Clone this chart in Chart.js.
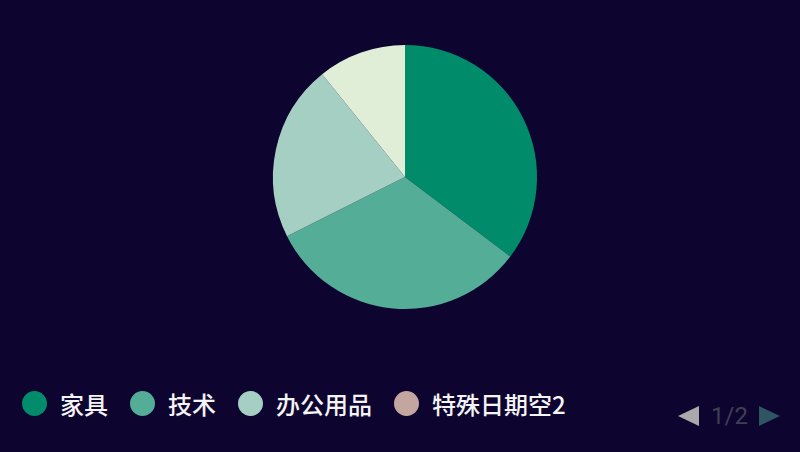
<!DOCTYPE html>
<html>
<head>
<meta charset="utf-8">
<script src="https://cdn.jsdelivr.net/npm/chart.js@4.4.0/dist/chart.umd.min.js"></script>
<style>
  html, body { margin: 0; padding: 0; background: #0e0430; }
  #wrap { position: relative; width: 800px; height: 452px; background: #0e0430; overflow: hidden; }
  #cbox { position: absolute; left: 0; top: 0; width: 800px; height: 354px; }
  #legend { position: absolute; left: 22px; top: 388px; height: 30px; display: flex; align-items: center;
            font-family: "Noto Sans CJK SC", "Noto Sans", sans-serif; font-size: 24px; font-weight: 500; color: #f4f4f4; white-space: nowrap; }
  .item { display: flex; align-items: center; margin-right: 22px; }
  .dot { width: 25px; height: 25px; border-radius: 50%; margin-right: 13px; flex: none; }
  #pager { position: absolute; left: 678px; top: 404px; height: 24px; display: flex; align-items: center;
           font-family: Roboto, "Noto Sans", sans-serif; font-size: 24px; color: #3c4052; }
  .tri-l { width: 0; height: 0; border-top: 10px solid transparent; border-bottom: 10px solid transparent; border-right: 21px solid #aaa; }
  .tri-r { width: 0; height: 0; border-top: 10px solid transparent; border-bottom: 10px solid transparent; border-left: 21px solid #2f5562; }
  #ptext { margin: 0 11px 0 12px; line-height: 24px; }
</style>
</head>
<body>
<div id="wrap">
  <div id="cbox"><canvas id="c"></canvas></div>
  <div id="legend"></div>
  <div id="pager"><div class="tri-l"></div><span id="ptext"></span><div class="tri-r"></div></div>
</div>
<script>
const categories = ["家具", "技术", "办公用品", "特殊日期空2", "其他"];
const values = [353, 323, 216, 0, 108];
const colors = ["#008c6a", "#54ad97", "#a6cfc3", "#c4a6a0", "#e0eed8"];
const legendPageSize = 4;
const legendPage = 1;
const legendPages = 2;

const chart = new Chart(document.getElementById('c'), {
  type: 'pie',
  data: {
    labels: categories,
    datasets: [{
      data: values,
      backgroundColor: colors,
      borderWidth: 0
    }]
  },
  options: {
    responsive: true,
    maintainAspectRatio: false,
    animation: false,
    layout: { padding: { top: 45, bottom: 45, left: 10, right: 0 } },
    plugins: {
      legend: { display: false },
      tooltip: { enabled: false }
    }
  }
});

// HTML legend built from the chart's labels (page 1 of 2)
const legendEl = document.getElementById('legend');
chart.data.labels.slice(0, legendPageSize).forEach((lab, i) => {
  const it = document.createElement('div');
  it.className = 'item';
  const d = document.createElement('span');
  d.className = 'dot';
  d.style.background = chart.data.datasets[0].backgroundColor[i];
  const t = document.createElement('span');
  t.textContent = lab;
  it.appendChild(d); it.appendChild(t);
  legendEl.appendChild(it);
});
document.getElementById('ptext').textContent = legendPage + '/' + legendPages;
</script>
</body>
</html>
